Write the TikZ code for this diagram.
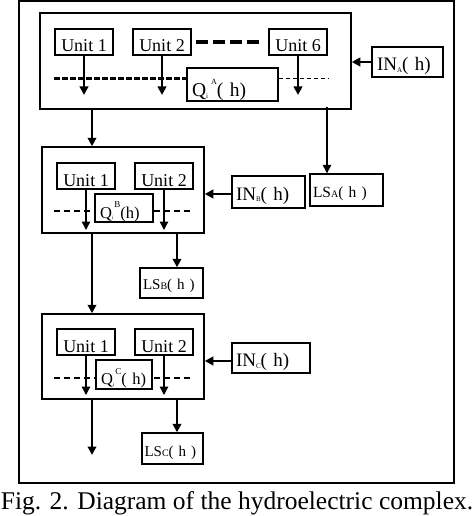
\documentclass[tikz,border=0pt]{standalone}
\usepackage{fontspec}
\setmainfont{Liberation Serif}
\usetikzlibrary{arrows.meta}
\newcommand\fs[1]{\fontsize{#1}{#1}\selectfont}
\newcommand\hsub[1]{\raisebox{-1.5pt}{\fs{7}#1}}
\newcommand\hsml[1]{{\fs{10}#1}}
\newcommand\hsupr[3]{\raisebox{#1}{\fs{#2}#3}}
\tikzset{
  bx/.style n args={4}{draw, line width=1.4pt, fill=white, inner xsep=#4pt, inner ysep=0pt,
     text width=#1pt-2*#4pt, minimum height=#2pt, text height=#2pt-#3pt, text depth=#3pt, align=left},
  unitbox/.style={draw, line width=1.4pt, fill=white, inner sep=0pt, minimum width=58pt,
     text height=23pt, text depth=3pt, align=center, font=\fs{18}},
  big/.style 2 args={draw, line width=1.5pt, minimum width=#1pt, minimum height=#2pt, inner sep=0pt},
  flow/.style={line width=2.8pt, -{Triangle[length=8.5pt,width=8.5pt]}},
  thinflow/.style={line width=1.3pt, -{Triangle[length=8.5pt,width=8.5pt]}},
  thickdash/.style={line width=3pt, dash pattern=on 5.5pt off 2.5pt},
  bigdash/.style={line width=4.5pt, dash pattern=on 12pt off 5pt},
  thindash/.style={line width=1pt, dash pattern=on 4pt off 3pt},
  middash/.style={line width=2.6pt, dash pattern=on 6pt off 4pt}
}
\begin{document}
\begin{tikzpicture}[x=1pt,y=-1pt]
\useasboundingbox (0,0) rectangle (474,516);
\draw[line width=2pt] (19,1) rectangle (454,483);

% ---------- plant A ----------
\node[big={311}{96}] (A) at (195.5,61) {};
\node[unitbox] (A1) at (84,42) {Unit 1};
\node[unitbox] (A2) at (162,42) {Unit 2};
\node[unitbox] (A6) at (298,42) {Unit 6};
\coordinate (dA1) at (196,42);
\coordinate (dA2) at (259,42);
\draw[bigdash] (dA1) -- (dA2);
\coordinate (lA) at (54,79);
\coordinate (rA) at (328,79);
\node[bx={91}{33}{4.3}{5}, font=\fs{19.5}] (QA) at (232.5,84.5) {Q\hsub{i}\hspace{3pt}\hsupr{12pt}{8}{A}( h)};
\draw[thickdash] (lA) -- (lA -| QA.west);
\draw[thindash] (QA.east |- rA) -- (rA);
\coordinate (yA) at (0,95);
\draw[flow] (A1.south) -- (A1.south |- yA);
\draw[flow] (A2.south) -- (A2.south |- yA);
\draw[flow] (A6.south) -- (A6.south |- yA);
\node[bx={71}{30}{6}{5}, font=\fs{19}] (INA) at (407.5,62) {IN\hsub{A}( h)};
\draw[flow] (INA.west) -- (INA.west -| A.east);

% ---------- plant B ----------
\node[big={162}{86}] (B) at (123,190) {};
\node[unitbox] (B1) at (86,176) {Unit 1};
\node[unitbox] (B2) at (164,176) {Unit 2};
\coordinate (lB) at (54,211);
\coordinate (rB) at (193,211);
\draw[middash] (lB) -- (rB);
\node[bx={58}{28}{4}{5}, font=\fs{16.5}] (QB) at (124,208) {Q\hsub{\fs{5}i}\hspace{1pt}\hsupr{10.5pt}{9}{B}(h)};
\coordinate (yB) at (0,230);
\draw[thinflow] (B1.south) -- (B1.south |- yB);
\draw[thinflow] (B2.south) -- (B2.south |- yB);
\node[bx={73}{32}{8}{4}, font=\fs{19}] (INB) at (268.5,192) {IN\hsub{B}( h)};
\coordinate (yINB) at (0,194);
\draw[flow] (INB.west |- yINB) -- (B.east |- yINB);
\node[bx={73}{32}{8.7}{3}, font=\fs{15.5}] (LSA) at (346.5,190) {LS\hsml{A}( h )};
\coordinate (sA) at (327,107);
\draw[thinflow] (sA) -- (sA |- LSA.north);
\coordinate (ab) at (92,109);
\draw[flow] (ab) -- (ab |- B.north);

% ---------- plant C ----------
\node[big={162}{85}] (C) at (123,356.5) {};
\node[unitbox] (C1) at (86,342) {Unit 1};
\node[unitbox] (C2) at (164,342) {Unit 2};
\coordinate (lC) at (54,378);
\coordinate (rC) at (193,378);
\draw[middash] (lC) -- (rC);
\node[bx={56}{29}{4.5}{5}, font=\fs{16.5}] (QC) at (124,374.5) {Q\hsub{\fs{5}i}\hspace{1pt}\hsupr{10pt}{9}{C}( h)};
\coordinate (yC) at (0,395);
\draw[thinflow] (C1.south) -- (C1.south |- yC);
\draw[thinflow] (C2.south) -- (C2.south |- yC);
\node[bx={78}{30}{6.3}{4}, font=\fs{19}] (INC) at (271,358) {IN\hsub{C}( h)};
\coordinate (yINC) at (0,361);
\draw[flow] (INC.west |- yINC) -- (C.east |- yINC);
\node[bx={63}{30}{8.7}{3}, font=\fs{15}] (LSB) at (171.5,283) {LS\hsml{B}( h )};
\coordinate (bl) at (177,233);
\draw[flow] (bl) -- (bl |- LSB.north);
\coordinate (bc) at (92,233);
\draw[flow] (bc) -- (bc |- C.north);

% ---------- outputs of C ----------
\node[bx={61}{31}{8}{2.5}, font=\fs{15}] (LSC) at (172.5,448.5) {LS\hsml{C}( h )};
\coordinate (cl) at (177,399);
\draw[flow] (cl) -- (cl |- LSC.north);
\coordinate (co) at (92,399);
\coordinate (cend) at (92,455);
\draw[flow] (co) -- (cend);

\node[anchor=base, inner sep=0pt, font=\fs{25.5}] (cap) at (237,509) {Fig. 2. Diagram of the hydroelectric complex.};
\end{tikzpicture}
\end{document}
